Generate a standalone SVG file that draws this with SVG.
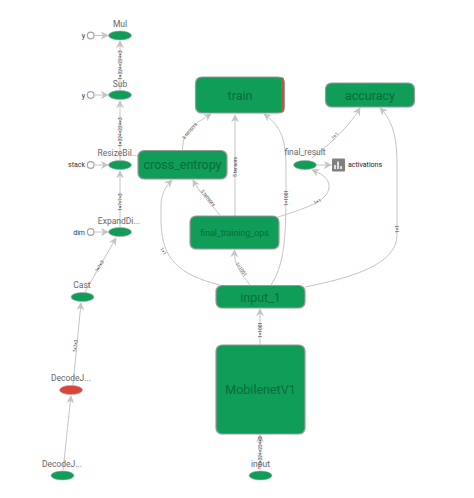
<svg xmlns="http://www.w3.org/2000/svg" width="474" height="498" viewBox="0 0 474 498">
<style>
text{font-family:Roboto,"Liberation Sans",sans-serif}
.g{fill:#0f9d58;stroke:#9a9a9a;stroke-width:1.200}
.m{fill:#0f9d58;stroke:#a8a8a8;stroke-width:.6}
.r{fill:#db4437;stroke:#a8a8a8;stroke-width:.6}
.o{fill:#fff;stroke:#a5a5a5;stroke-width:1.200}
.e{fill:none;stroke:#c4c4c4;stroke-width:1;marker-end:url(#a)}
.c{fill:#666;font-size:8.500px;text-anchor:middle}
.s{fill:#333;font-size:7px;text-anchor:end}
.n{fill:#0b6b3c;text-anchor:middle}
.l{fill:#444;font-size:4.800px;text-anchor:middle}
</style>
<defs><marker id="a" viewBox="0 0 10 10" refX="9" refY="5" markerWidth="8" markerHeight="8" markerUnits="userSpaceOnUse" orient="auto"><path d="M0 0L10 5L0 10L3 5Z" fill="#c4c4c4"/></marker></defs>
<rect width="474" height="498" fill="#fff"/>
<g id="connectors">
<path class="e" d="M120 90V41"/>
<path class="e" d="M120 160V101"/>
<path class="e" d="M120 227V171"/>
<path class="e" d="M94.500 35.500H108"/>
<path class="e" d="M94.500 95H108"/>
<path class="e" d="M94.500 165H108"/>
<path class="e" d="M94.500 232H108"/>
<path class="e" d="M85 292L116 238"/>
<path class="e" d="M73 385L81 303"/>
<path class="e" d="M63 470L71 396"/>
<path class="e" d="M260 345V309"/>
<path class="e" d="M260 470V435"/>
<path class="e" d="M182.500 150C182.500 128 196 124 211 114"/>
<path class="e" d="M235 216V115"/>
<path class="e" d="M271 285C284 265 286 240 286 190V170C286 140 282 127 264 114"/>
<path class="e" d="M312 158C335 140 350 125 360 108"/>
<path class="e" d="M305 287C350 278 397 265 397 235V165C397 135 392 120 380 108"/>
<path class="e" d="M317 165H331"/>
<path class="e" d="M278 217C310 207 330 200 329 185C328 178 322 174 312 170"/>
<path class="e" d="M220 215C207 200 200 193 193 180"/>
<path class="e" d="M220 285C180 275 161 260 161 220V205C161 195 165 187 172 180"/>
<path class="e" d="M250 285C240 272 234 265 234.500 250"/>
</g>
<g id="edge-labels">
<text class="l" transform="translate(121.500 65) rotate(-90)">1×224×224×3</text>
<text class="l" transform="translate(121.500 132) rotate(-90)">1×224×224×3</text>
<text class="l" transform="translate(121.500 202) rotate(-90)">1×?×?×3</text>
<text class="l" transform="translate(101 267) rotate(-60)">?×?×3</text>
<text class="l" transform="translate(77 346) rotate(-84)">?×?×3</text>
<text class="l" transform="translate(261.500 330) rotate(-90)">1×1001</text>
<text class="l" transform="translate(261.500 451) rotate(-90)">1×224×224×3</text>
<text class="l" transform="translate(191 132) rotate(-50)">5 tensors</text>
<text class="l" transform="translate(236.500 167) rotate(-90)">5 tensors</text>
<text class="l" transform="translate(287.500 198) rotate(-90)">1×1001</text>
<text class="l" transform="translate(336 137) rotate(-45)">1×1</text>
<text class="l" transform="translate(207 199) rotate(50)">5 tensors</text>
<text class="l" transform="translate(318 203) rotate(-25)">1×1</text>
<text class="l" transform="translate(162 252) rotate(60)">1×1</text>
<text class="l" transform="translate(240 270) rotate(55)">1×1001</text>
<text class="l" transform="translate(399 229) rotate(-90)">1×1</text>
</g>
<g id="mul"><text class="c" x="120" y="27">Mul</text><ellipse class="m" cx="120" cy="35.500" rx="11.500" ry="4.500"/></g>
<g id="mul-y"><circle class="o" cx="90.700" cy="35.500" r="3.300"/><text class="s" x="85" y="38">y</text></g>
<g id="sub"><text class="c" x="120" y="87">Sub</text><ellipse class="m" cx="120" cy="95" rx="11.500" ry="4.500"/></g>
<g id="sub-y"><circle class="o" cx="90.700" cy="95" r="3.300"/><text class="s" x="85" y="98">y</text></g>
<g id="resize"><text class="c" x="118" y="156">ResizeBil...</text><ellipse class="m" cx="120" cy="165" rx="11.500" ry="4.500"/></g>
<g id="stack"><circle class="o" cx="90.700" cy="165" r="3.300"/><text class="s" x="85" y="167">stack</text></g>
<g id="expand"><text class="c" x="119" y="224">ExpandDi...</text><ellipse class="m" cx="120" cy="232" rx="11.500" ry="4.500"/></g>
<g id="dim"><circle class="o" cx="90.700" cy="232" r="3.300"/><text class="s" x="85" y="234.500">dim</text></g>
<g id="cast"><text class="c" x="82" y="288">Cast</text><ellipse class="m" cx="82.500" cy="297" rx="11.500" ry="4.500"/></g>
<g id="decode-red"><text class="c" x="71" y="381">DecodeJ...</text><ellipse class="r" cx="71" cy="390" rx="11.500" ry="4.500"/></g>
<g id="decode"><text class="c" x="62" y="467">DecodeJ...</text><ellipse class="m" cx="62.500" cy="475.500" rx="11.500" ry="4.500"/></g>
<g id="train"><rect class="g" x="195.500" y="77" width="89" height="36" rx="6"/><path d="M282 77.600H281V112.400H282C283.500 112.400 284 111 284 110V80C284 79 283.500 77.600 282 77.600Z" fill="#b9583f"/><text class="n" x="240" y="100" font-size="12.500">train</text></g>
<g id="accuracy"><rect class="g" x="325.500" y="83" width="89" height="24" rx="6"/><text class="n" x="370" y="100" font-size="12.500">accuracy</text></g>
<g id="cross_entropy"><rect class="g" x="138" y="150.500" width="89" height="28.500" rx="6"/><text class="n" x="182.500" y="169" font-size="12.500">cross_entropy</text></g>
<g id="final_training_ops"><rect class="g" x="190" y="216" width="89" height="33" rx="6"/><text class="n" x="234.500" y="236" font-size="8.800">final_training_ops</text></g>
<g id="final_result"><text class="c" x="305" y="155">final_result</text><ellipse class="m" cx="305" cy="165" rx="11.500" ry="4.500"/></g>
<g id="activations"><rect x="332" y="158.500" width="13" height="13" rx="1" fill="#808080"/><path d="M335 169v-4M338 169v-7.500M341 169v-3" stroke="#fff" stroke-width="1.500"/><text x="348" y="167" font-size="7" fill="#222">activations</text></g>
<g id="input_1"><rect class="g" x="216" y="285.500" width="89" height="22.500" rx="6"/><text class="n" x="260.500" y="301.500" font-size="12.500">input_1</text></g>
<g id="mobilenet"><rect class="g" x="216" y="345" width="89" height="89" rx="6"/><text class="n" x="260.500" y="394" font-size="12.500">MobilenetV1</text></g>
<g id="input"><text class="c" x="260.500" y="467">input</text><ellipse class="m" cx="260.500" cy="475.500" rx="11.500" ry="4.500"/></g>
</svg>
